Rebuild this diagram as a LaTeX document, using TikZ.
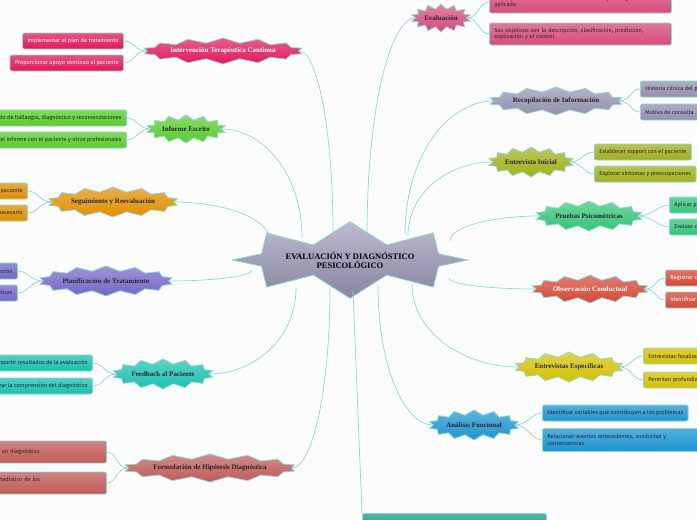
\documentclass[tikz,border=0pt]{standalone}
\usepackage{fontspec}
\setmainfont{Fira Sans}
\newfontfamily\topicfont{Liberation Serif}
\usetikzlibrary{shapes.symbols,calc}
\definecolor{cn}{HTML}{8FD8D0}
\tikzset{
 conn/.style={draw=cn,line width=0.7pt},
 topic/.style={starburst,starburst points=14,starburst point height=5pt,random starburst=0,
   draw=cn,line width=0.8pt,top color=#1!70!white,bottom color=#1,inner sep=1pt,
   font=\topicfont\bfseries\fontsize{7}{8}\selectfont,text=black!85},
 leaf/.style={rectangle,rounded corners=2pt,draw=cn,line width=0.8pt,top color=#1!75!white,bottom color=#1,
   font=\fontsize{5.6}{6.6}\selectfont,text=black!85,inner xsep=5pt,inner ysep=0pt,minimum height=16pt,align=left},
}
\newcommand\lnk[2]{\draw[conn] (#1) .. controls ($(#1|-#2)!0.4!(#1)$) and ($(#1|-#2)!0.5!(#2)$) .. (#2);}
\newcommand\brl[2]{\draw[conn] (#1.west) .. controls +(-12,0) and +(10,0) .. (#2.east);}
\newcommand\brr[2]{\draw[conn] (#1.east) .. controls +(12,0) and +(-10,0) .. (#2.west);}
\begin{document}
\begin{tikzpicture}[x=1pt,y=-1pt]
\useasboundingbox (0,0) rectangle (697,520);
\fill[white!98!gray] (0,0) rectangle (697,520);
\clip (0,0) rectangle (697,520);
\definecolor{cA}{HTML}{E0185A}\definecolor{cB}{HTML}{58CC2A}\definecolor{cC}{HTML}{E08E00}
\definecolor{cD}{HTML}{7466C8}\definecolor{cE}{HTML}{18C0B0}\definecolor{cF}{HTML}{C05A56}
\definecolor{cG}{HTML}{D64A7C}\definecolor{cH}{HTML}{9490B0}\definecolor{cI}{HTML}{A0B018}
\definecolor{cJ}{HTML}{34C478}\definecolor{cK}{HTML}{D44634}\definecolor{cL}{HTML}{D4C000}
\definecolor{cM}{HTML}{1C94D0}\definecolor{cZ}{HTML}{A09CBC}

% center
\node[starburst,starburst points=8,starburst point height=22pt,random starburst=0,draw=cn,line width=0.8pt,
 top color=cZ!70!white,bottom color=cZ!85!black,minimum width=220pt,minimum height=62pt,align=center,
 font=\topicfont\bfseries\fontsize{8.5}{9}\selectfont,text=black] (c) at (350,260)
 {EVALUACIÓN Y DIAGNÓSTICO\\PESICOLÓGICO};

% topics
\node[topic=cA,text=white,minimum width=150pt,minimum height=26pt] (t1) at (223,51) {Intervención Terapéutica Continua};
\node[topic=cB,minimum width=74pt,minimum height=28pt] (t2) at (186,129) {Informe Escrito};
\node[topic=cC,minimum width=124pt,minimum height=30pt] (t3) at (113,202) {Seguimiento y Reevaluación};
\node[topic=cD,minimum width=130pt,minimum height=30pt] (t4) at (106,281) {Planificación de Tratamiento};
\node[topic=cE,minimum width=96pt,minimum height=30pt] (t5) at (163,374) {Feedback al Paciente};
\node[topic=cF,minimum width=162pt,minimum height=28pt] (t6) at (210,468) {Formulación de Hipótesis Diagnóstica};
\node[topic=cG,minimum width=56pt,minimum height=28pt] (t7) at (441,18) {Evaluación};
\node[topic=cH,minimum width=126pt,minimum height=28pt] (t8) at (556,101) {Recopilación de Información};
\node[topic=cI,minimum width=80pt,minimum height=30pt] (t9) at (531,162) {Entrevista Inicial};
\node[topic=cJ,minimum width=100pt,minimum height=30pt] (t10) at (589,216) {Pruebas Psicométricas};
\node[topic=cK,text=white,minimum width=110pt,minimum height=28pt] (t11) at (590,289) {Observación Conductual};
\node[topic=cL,minimum width=104pt,minimum height=30pt] (t12) at (569,367) {Entrevistas Específicas};
\node[topic=cM,minimum width=84pt,minimum height=30pt] (t13) at (474,425) {Análisis Funcional};
\node[leaf=cE!80!black,anchor=north west,minimum width=184pt,minimum height=20pt] (t14) at (362,513) {};

% main links
\coordinate (s1) at (333,234);\coordinate (s2) at (302,238);\coordinate (s3) at (270,241);
\coordinate (s4) at (252,270);\coordinate (s5) at (296,288);\coordinate (s6) at (330,287);
\coordinate (s7) at (367,236);\coordinate (s8) at (405,235);\coordinate (s9) at (408,236);
\coordinate (s10) at (450,241);\coordinate (s11) at (449,278);\coordinate (s12) at (412,284);
\coordinate (s13) at (378,285);\coordinate (s14) at (353,290);
\lnk{s1}{t1.east}\lnk{s2}{t2.east}\lnk{s3}{t3.east}\lnk{s4}{t4.east}\lnk{s5}{t5.east}\lnk{s6}{t6.east}
\lnk{s7}{t7.west}\lnk{s8}{t8.west}\lnk{s9}{t9.west}\lnk{s10}{t10.west}\lnk{s11}{t11.west}\lnk{s12}{t12.west}\lnk{s13}{t13.west}
\draw[conn] (s14) -- (t14.north west);

% leaves left
\node[leaf=cA,text=white,anchor=east] (l1a) at (124,41) {Implementar el plan de tratamiento};
\node[leaf=cA,text=white,anchor=east] (l1b) at (124,63) {Proporcionar apoyo continuo al paciente};
\node[leaf=cB,anchor=east] (l2a) at (127,118) {Informe detallado de hallazgos, diagnóstico y recomendaciones};
\node[leaf=cB,anchor=east] (l2b) at (127,140) {Discutir el informe con el paciente y otros profesionales};
\node[leaf=cC,anchor=east] (l3a) at (28,191) {Monitorear el progreso del paciente};
\node[leaf=cC,anchor=east] (l3b) at (28,213) {Ajustar el tratamiento según sea necesario};
\node[leaf=cD,anchor=east] (l4a) at (18,271) {Establecer metas de intervención};
\node[leaf=cD,anchor=east] (l4b) at (18,293) {Seleccionar técnicas terapéuticas};
\node[leaf=cE,anchor=east] (l5a) at (93,363) {Compartir resultados de la evaluación};
\node[leaf=cE,anchor=east] (l5b) at (93,386) {Asegurar la comprensión del diagnóstico};
\node[leaf=cF,anchor=east,minimum height=22pt,text width=190pt] (l6a) at (107,452) {Integrar la información para hacer un diagnóstico\\ };
\node[leaf=cF,anchor=east,minimum height=22pt,text width=190pt] (l6b) at (107,483) {Utilizar el Manual Diagnóstico y Estadístico de los\\Trastornos Mentales (DSM-5)};
\brl{t1}{l1a}\brl{t1}{l1b}\brl{t2}{l2a}\brl{t2}{l2b}\brl{t3}{l3a}\brl{t3}{l3b}
\brl{t4}{l4a}\brl{t4}{l4b}\brl{t5}{l5a}\brl{t5}{l5b}\brl{t6}{l6a}\brl{t6}{l6b}

% leaves right
\node[leaf=cG,anchor=west,minimum height=22pt,text width=172pt] (l7a) at (489,2) {Es un proceso en el ámbito científico de la psicología\\aplicada};
\node[leaf=cG,anchor=west,minimum height=22pt,text width=172pt] (l7b) at (489,34) {Sus objetivos son la descripción, clasificación, predicción,\\explicación  y el control.};
\node[leaf=cH,anchor=west] (l8a) at (640,89) {Historia clínica del paciente};
\node[leaf=cH,anchor=west] (l8b) at (640,112) {Motivo de consulta};
\node[leaf=cI,anchor=west] (l9a) at (594,152) {Establecer rapport con el paciente};
\node[leaf=cI,anchor=west] (l9b) at (594,174) {Explorar síntomas y preocupaciones};
\node[leaf=cJ,anchor=west] (l10a) at (669,205) {Aplicar pruebas estandarizadas};
\node[leaf=cJ,anchor=west] (l10b) at (669,227) {Evaluar capacidades cognitivas};
\node[leaf=cK,text=white,anchor=west] (l11a) at (665,278) {Registrar conductas observadas};
\node[leaf=cK,text=white,anchor=west] (l11b) at (665,300) {Identificar patrones de conducta};
\node[leaf=cL,anchor=west] (l12a) at (643,356) {Entrevistas focalizadas};
\node[leaf=cL,anchor=west] (l12b) at (643,380) {Permiten profundizar en áreas específicas};
\node[leaf=cM,anchor=west] (l13a) at (542,413) {Identificar variables que contribuyen a los problemas};
\node[leaf=cM,anchor=west,minimum height=23pt,text width=160pt] (l13b) at (542,440) {Relacionar eventos antecedentes, conductas y\\consecuencias};
\brr{t7}{l7a}\brr{t7}{l7b}\brr{t8}{l8a}\brr{t8}{l8b}\brr{t9}{l9a}\brr{t9}{l9b}
\brr{t10}{l10a}\brr{t10}{l10b}\brr{t11}{l11a}\brr{t11}{l11b}\brr{t12}{l12a}\brr{t12}{l12b}
\brr{t13}{l13a}\brr{t13}{l13b}
\end{tikzpicture}
\end{document}
